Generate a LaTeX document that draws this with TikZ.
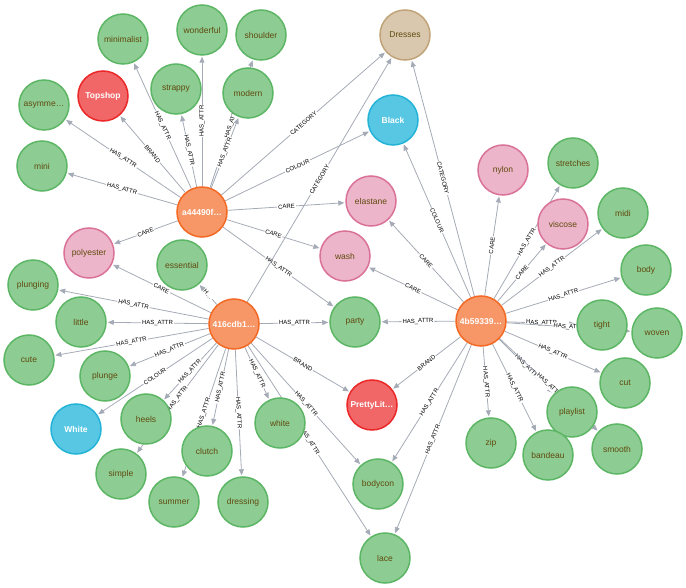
\documentclass[tikz,border=0pt]{standalone}
\usepackage{fontspec}
\setmainfont{Liberation Sans}
\usetikzlibrary{arrows.meta}
\pgfdeclarelayer{bg}
\pgfsetlayers{bg,main}
\definecolor{gF}{HTML}{8DCC93}\definecolor{gD}{HTML}{5DB665}
\definecolor{oF}{HTML}{F79767}\definecolor{oD}{HTML}{F36924}
\definecolor{pF}{HTML}{ECB5C9}\definecolor{pD}{HTML}{DA7298}
\definecolor{rF}{HTML}{F16667}\definecolor{rD}{HTML}{EB2728}
\definecolor{bF}{HTML}{57C7E3}\definecolor{bD}{HTML}{23B3D7}
\definecolor{tF}{HTML}{D9C8AE}\definecolor{tD}{HTML}{C0A378}
\definecolor{txt}{HTML}{604A0E}\definecolor{edge}{HTML}{A5ABB6}
\tikzset{
 nd/.style={circle,minimum size=50pt,inner sep=0pt,line width=1.5pt,font=\fontsize{8.5}{10}\selectfont},
 gn/.style={nd,fill=gF,draw=gD,text=txt},
 on/.style={nd,fill=oF,draw=oD,text=white,font=\fontsize{8.5}{10}\selectfont\bfseries},
 pn/.style={nd,fill=pF,draw=pD,text=txt},
 rn/.style={nd,fill=rF,draw=rD,text=white,font=\fontsize{8.5}{10}\selectfont\bfseries},
 bn/.style={nd,fill=bF,draw=bD,text=white,font=\fontsize{8.5}{10}\selectfont\bfseries},
 tn/.style={nd,fill=tF,draw=tD,text=txt},
 rel/.style={draw=edge,line width=0.8pt,-{Triangle[length=6pt,width=5pt]},shorten >=1pt},
 lab/.style={sloped,fill=white,inner sep=1pt,font=\fontsize{6}{7}\selectfont,text=black}
}
\begin{document}
\begin{tikzpicture}[x=1pt,y=-1pt]
\useasboundingbox (0,0) rectangle (686,588);
\node[tn] (Dresses) at (405,35) {Dresses};
\node[gn] (minimalist) at (123,39) {minimalist};
\node[gn] (wonderful) at (202,30) {wonderful};
\node[gn] (shoulder) at (261,35) {shoulder};
\node[gn] (asymme) at (44,105) {asymme\ldots};
\node[rn] (Topshop) at (103,96) {Topshop};
\node[gn] (strappy) at (176,89) {strappy};
\node[gn] (modern) at (248,93) {modern};
\node[bn] (Black) at (393,120) {Black};
\node[gn] (mini) at (42,166) {mini};
\node[on] (a) at (202,212) {a44490f\ldots};
\node[pn] (nylon) at (503,170) {nylon};
\node[gn] (stretches) at (573,163) {stretches};
\node[gn] (midi) at (623,213) {midi};
\node[pn] (viscose) at (563,224) {viscose};
\node[pn] (elastane) at (371,201) {elastane};
\node[pn] (wash) at (345,256) {wash};
\node[pn] (polyester) at (89,253) {polyester};
\node[gn] (essential) at (182,265) {essential};
\node[gn] (plunging) at (33,285) {plunging};
\node[gn] (little) at (81,322) {little};
\node[gn] (cute) at (29,360) {cute};
\node[on] (b) at (234,324) {416cdb1\ldots};
\node[gn] (party) at (355,322) {party};
\node[on] (c) at (481,321) {4b59339\ldots};
\node[gn] (body) at (646,270) {body};
\node[gn] (tight) at (602,325) {tight};
\node[gn] (woven) at (657,333) {woven};
\node[gn] (plunge) at (105,376) {plunge};
\node[bn] (White) at (76,429) {White};
\node[gn] (heels) at (146,419) {heels};
\node[gn] (cut) at (625,383) {cut};
\node[rn] (Pretty) at (372,405) {PrettyLit\ldots};
\node[gn] (playlist) at (572,412) {playlist};
\node[gn] (smooth) at (617,449) {smooth};
\node[gn] (simple) at (121,474) {simple};
\node[gn] (clutch) at (207,451) {clutch};
\node[gn] (white) at (280,423) {white};
\node[gn] (bodycon) at (378,484) {bodycon};
\node[gn] (zip) at (491,443) {zip};
\node[gn] (bandeau) at (548,455) {bandeau};
\node[gn] (summer) at (174,502) {summer};
\node[gn] (dressing) at (243,502) {dressing};
\node[gn] (lace) at (385,558) {lace};
\begin{pgfonlayer}{bg}
\foreach \s/\t/\l in {
 a/mini/HAS\_ATTR, a/asymme/HAS\_ATTR, a/Topshop/BRAND, a/minimalist/HAS\_ATTR,
 a/strappy/HAS\_ATTR, a/wonderful/HAS\_ATTR, a/shoulder/HAS\_ATTR, a/modern/HAS\_ATTR,
 a/Dresses/CATEGORY, a/Black/COLOUR, a/elastane/CARE, a/wash/CARE, a/party/HAS\_ATTR,
 a/polyester/CARE,
 b/Dresses/CATEGORY, b/polyester/CARE, b/essential/H\ldots, b/plunging/HAS\_ATTR,
 b/little/HAS\_ATTR, b/cute/HAS\_ATTR, b/plunge/HAS\_ATTR, b/White/COLOUR,
 b/heels/HAS\_ATTR, b/simple/HAS\_ATTR, b/clutch/HAS\_ATTR, b/summer/HAS\_ATTR,
 b/dressing/HAS\_ATTR, b/white/HAS\_ATTR, b/bodycon/HAS\_ATTR, b/lace/HAS\_ATTR,
 b/party/HAS\_ATTR, b/Pretty/BRAND,
 c/Dresses/CATEGORY, c/Black/COLOUR, c/elastane/CARE, c/wash/CARE, c/party/HAS\_ATTR,
 c/nylon/CARE, c/viscose/CARE, c/stretches/HAS\_ATTR, c/midi/HAS\_ATTR, c/body/HAS\_ATTR,
 c/tight/HAS\_ATTR, c/woven/HAS\_ATTR, c/cut/HAS\_ATTR, c/playlist/HAS\_ATTR,
 c/smooth/HAS\_ATTR, c/zip/HAS\_ATTR, c/bandeau/HAS\_ATTR, c/bodycon/HAS\_ATTR,
 c/lace/HAS\_ATTR, c/Pretty/BRAND}
 \draw[rel] (\s) -- node[lab]{\l} (\t);
\end{pgfonlayer}
\end{tikzpicture}
\end{document}
